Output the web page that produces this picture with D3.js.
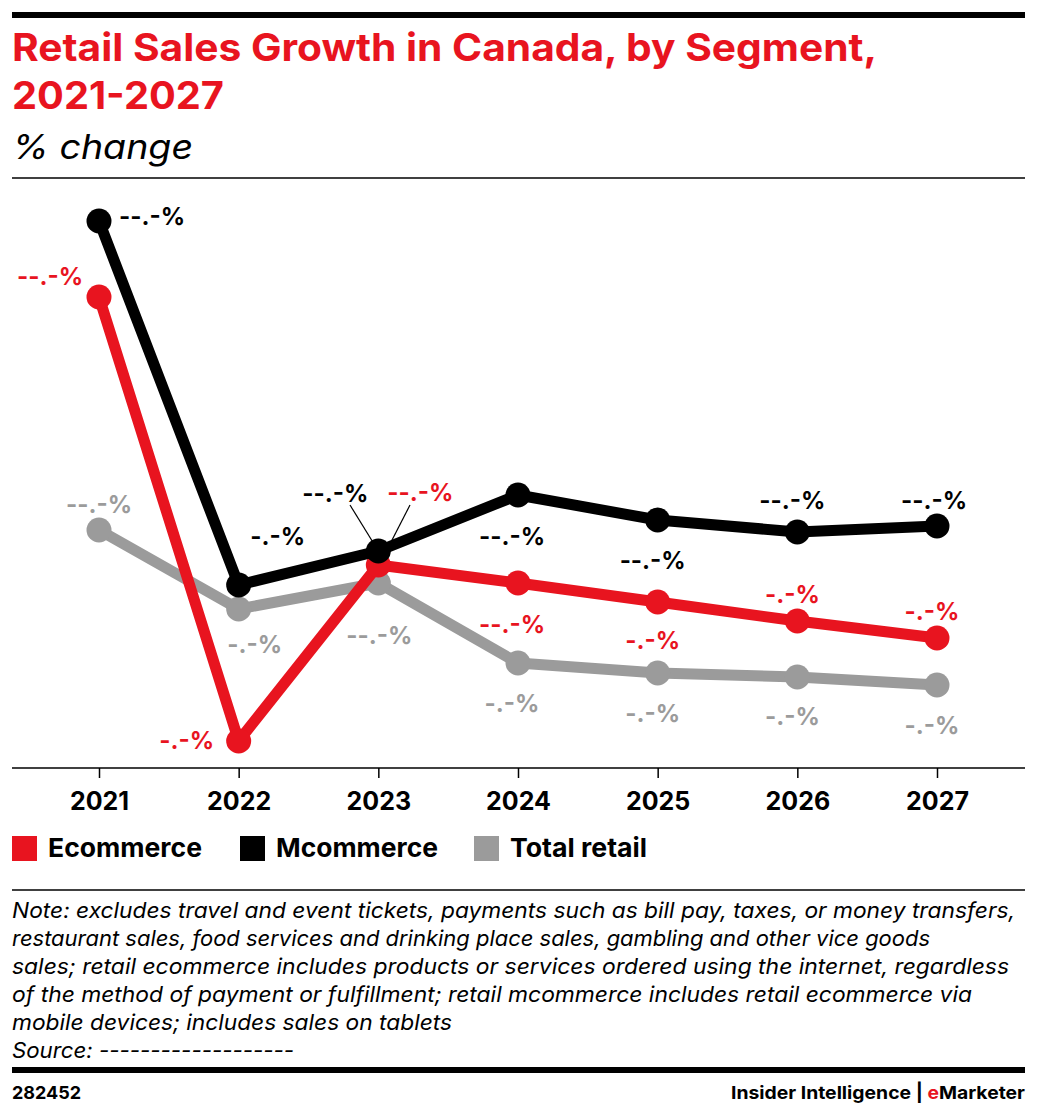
<!DOCTYPE html>
<html><head><meta charset="utf-8">
<script src="https://cdn.jsdelivr.net/npm/d3@7"></script>
<style>body{margin:0;background:#fff}text{font-family:Inter,"Liberation Sans",sans-serif}</style>
</head><body>
<svg id="chart" width="1038" height="1117"></svg>
<script>
const years = ["2021","2022","2023","2024","2025","2026","2027"];
const ecommerce = [30.3, -14.1, 3.5, 1.7, -0.2, -2.1, -3.8];
const mcommerce = [37.9, 1.5, 4.9, 10.5, 8.0, 6.8, 7.4];
const totalRetail = [7.0, -0.9, 1.7, -6.3, -7.3, -7.7, -8.5];
const ecomLabels = ["--.-%","-.-%","--.-%","--.-%","-.-%","-.-%","-.-%"];
const mcomLabels = ["--.-%","-.-%","--.-%","--.-%","--.-%","--.-%","--.-%"];
const totalLabels = ["--.-%","-.-%","--.-%","-.-%","-.-%","-.-%","-.-%"];
const noteLines = [
  "Note: excludes travel and event tickets, payments such as bill pay, taxes, or money transfers,",
  "restaurant sales, food services and drinking place sales, gambling and other vice goods",
  "sales; retail ecommerce includes products or services ordered using the internet, regardless",
  "of the method of payment or fulfillment; retail mcommerce includes retail ecommerce via",
  "mobile devices; includes sales on tablets",
  "Source: -------------------"
];
const noteWidths = [1003, 918, 997, 960, 440, 282];

const svg = d3.select("#chart");
const x = d3.scalePoint().domain(years).range([99, 937]);
const y = d3.scaleLinear().domain([-16.8, 42.2]).range([768, 178]);

// header
svg.append("rect").attr("x", 12).attr("y", 12).attr("width", 1013).attr("height", 6).attr("fill", "#000");
svg.append("text").attr("x", 12).attr("y", 61).attr("fill", "#e8141f").attr("font-size", 38).attr("font-weight", 700)
  .attr("textLength", 865).attr("lengthAdjust", "spacingAndGlyphs")
  .text("Retail Sales Growth in Canada, by Segment,");
svg.append("text").attr("x", 12).attr("y", 109).attr("fill", "#e8141f").attr("font-size", 38).attr("font-weight", 700)
  .attr("textLength", 212).attr("lengthAdjust", "spacingAndGlyphs")
  .text("2021-2027");
svg.append("text").attr("x", 12).attr("y", 159).attr("font-size", 34).attr("font-style", "italic")
  .attr("textLength", 181).attr("lengthAdjust", "spacingAndGlyphs").text("% change");
svg.append("line").attr("x1", 12).attr("x2", 1025).attr("y1", 178).attr("y2", 178).attr("stroke", "#000").attr("stroke-width", 1.5);

// x axis
const axis = svg.append("g").attr("transform", "translate(0,768)")
  .call(d3.axisBottom(x).tickSize(10).tickPadding(14));
axis.select(".domain").remove();
axis.append("line").attr("x1", 12).attr("x2", 1025).attr("stroke", "#000").attr("stroke-width", 1.5);
axis.selectAll(".tick line").attr("stroke", "#000").attr("stroke-width", 1.5);
axis.selectAll(".tick text").attr("fill", "#000").attr("font-size", 25).attr("font-weight", 700)
  .attr("font-family", "Inter, 'Liberation Sans', sans-serif");

// leader lines
const leaders = [
  {from: [x("2023"), y(mcommerce[2])], to: [350, 505]},
  {from: [x("2023") + 5, y(ecommerce[2]) - 8], to: [410, 505]}
];
svg.selectAll(".leader").data(leaders).join("line")
  .attr("x1", d => d.from[0]).attr("y1", d => d.from[1])
  .attr("x2", d => d.to[0]).attr("y2", d => d.to[1])
  .attr("stroke", "#000").attr("stroke-width", 1.2);

const series = [
  {name: "Total retail", color: "#9b9b9b", values: totalRetail, labels: totalLabels, labelColor: "#9b9b9b",
   offsets: [[0,-25],[16,36],[1,53],[-6,41],[-5,41],[-5,40],[-5,41]]},
  {name: "Ecommerce", color: "#e8141f", values: ecommerce, labels: ecomLabels, labelColor: "#e8141f",
   offsets: [[-49,-20],[-52,0],[42,-72],[-6,42],[-5,39],[-5,-26],[-5,-26]]},
  {name: "Mcommerce", color: "#000", values: mcommerce, labels: mcomLabels, labelColor: "#000",
   offsets: [[53,-4],[39,-48],[-43,-57],[-6,42],[-5,41],[-5,-31],[-3,-25]]}
];

const line = d3.line().x((d, i) => x(years[i])).y(d => y(d));
series.forEach(s => {
  svg.append("path").datum(s.values).attr("d", line).attr("fill", "none")
    .attr("stroke", s.color).attr("stroke-width", 11).attr("stroke-linejoin", "round");
  svg.selectAll(null).data(s.values).join("circle")
    .attr("cx", (d, i) => x(years[i])).attr("cy", d => y(d)).attr("r", 12.5).attr("fill", s.color);
});
series.forEach(s => {
  svg.selectAll(null).data(s.values).join("text")
    .attr("x", (d, i) => x(years[i]) + s.offsets[i][0])
    .attr("y", (d, i) => y(d) + s.offsets[i][1] + 8)
    .attr("text-anchor", "middle").attr("font-size", 24).attr("font-weight", 700)
    .attr("fill", s.labelColor).text((d, i) => s.labels[i]);
});

// legend
const legend = [["Ecommerce", "#e8141f", 12, 154], ["Mcommerce", "#000", 240, 162], ["Total retail", "#9b9b9b", 474, 137]];
legend.forEach(([name, color, lx, w]) => {
  svg.append("rect").attr("x", lx).attr("y", 836).attr("width", 25).attr("height", 25).attr("fill", color);
  svg.append("text").attr("x", lx + 36).attr("y", 857).attr("font-size", 26).attr("font-weight", 700)
    .attr("textLength", w).attr("lengthAdjust", "spacingAndGlyphs").text(name);
});

// notes
svg.append("line").attr("x1", 12).attr("x2", 1025).attr("y1", 890).attr("y2", 890).attr("stroke", "#000").attr("stroke-width", 1.5);
svg.selectAll(".note").data(noteLines).join("text")
  .attr("x", 12).attr("y", (d, i) => 918 + i * 28)
  .attr("font-size", 21.5).attr("font-style", "italic")
  .attr("textLength", (d, i) => noteWidths[i]).attr("lengthAdjust", "spacingAndGlyphs").text(d => d);

// footer
svg.append("rect").attr("x", 12).attr("y", 1067).attr("width", 1013).attr("height", 6).attr("fill", "#000");
svg.append("text").attr("x", 12).attr("y", 1099).attr("font-size", 18).attr("font-weight", 700).text("282452");
const foot = svg.append("text").attr("x", 1025).attr("y", 1099).attr("text-anchor", "end")
  .attr("font-size", 18).attr("font-weight", 700).attr("textLength", 294).attr("lengthAdjust", "spacingAndGlyphs");
foot.append("tspan").text("Insider Intelligence | ");
foot.append("tspan").attr("fill", "#e8141f").text("e");
foot.append("tspan").text("Marketer");
</script>
</body></html>
